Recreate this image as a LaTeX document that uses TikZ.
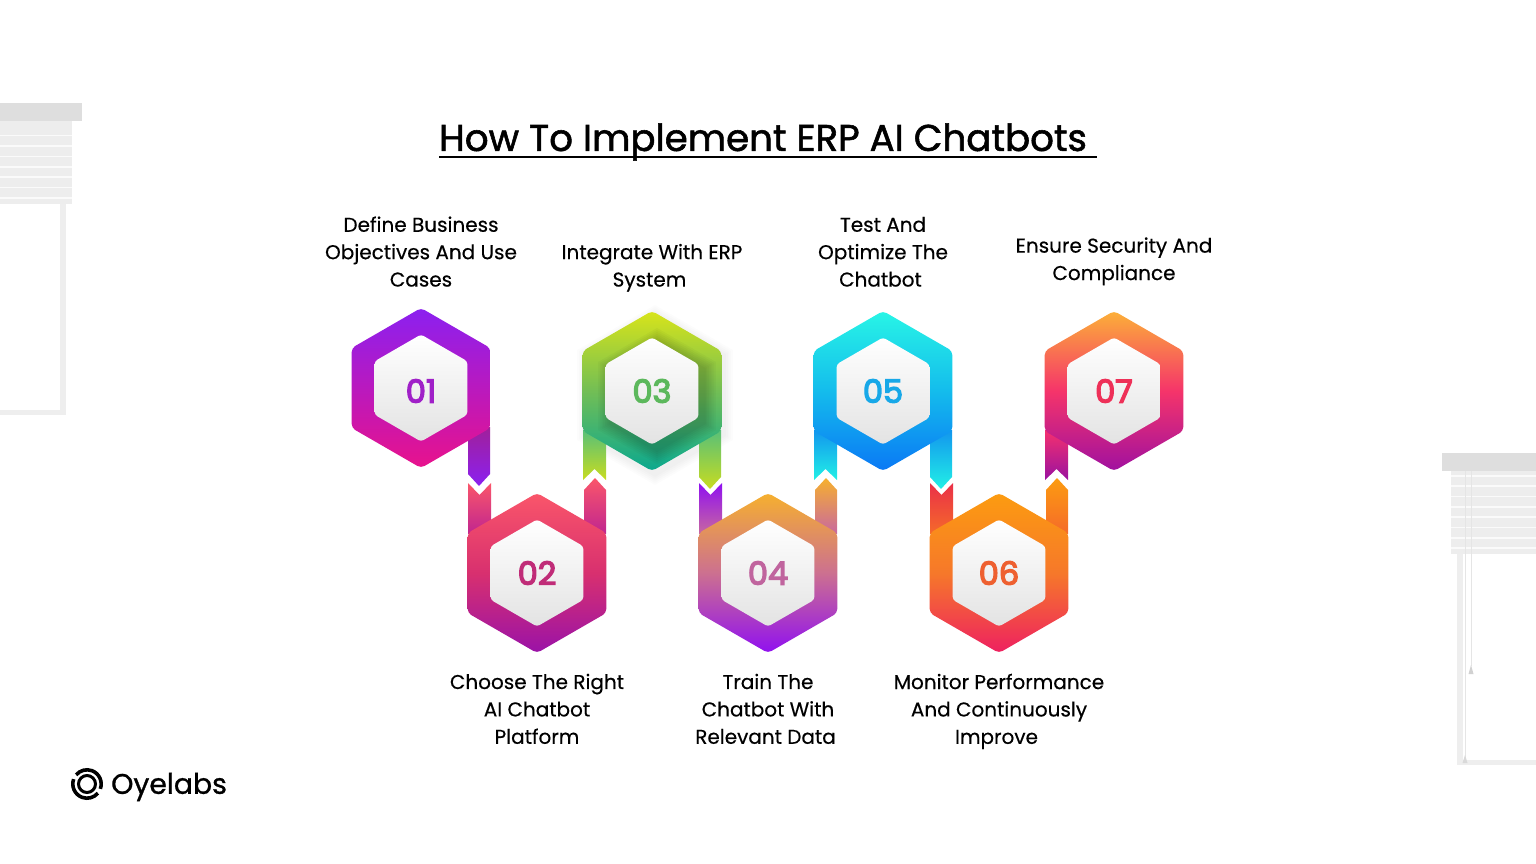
\documentclass[tikz,border=0pt]{standalone}
\usepackage{fontspec}
\setmainfont{Poppins}
\newfontfamily\headfont[FakeBold=1.5]{Poppins}
\newfontfamily\numfont[FakeBold=4]{Poppins}
\newfontfamily\steplabelfont[FakeBold=0.4]{Poppins}
\newfontfamily\brandfont[FakeBold=1]{Poppins}
\usetikzlibrary{positioning,shapes.geometric,calc,backgrounds}

\definecolor{blindbar}{HTML}{DEDEDE}
\definecolor{blindslat}{HTML}{EDEDED}
\definecolor{blindline}{HTML}{FAFAFA}
\definecolor{blindframe}{HTML}{EEEEEE}

\definecolor{HexA1}{HTML}{8B20F0}
\definecolor{HexA2}{HTML}{E8128C}
\definecolor{RibA1}{HTML}{A0209A}
\definecolor{HexB1}{HTML}{FA566A}
\definecolor{HexB2}{HTML}{D8306F}
\definecolor{HexB3}{HTML}{9A12A8}
\definecolor{RibB2}{HTML}{C02590}
\definecolor{HexC1}{HTML}{D8E41A}
\definecolor{HexC2}{HTML}{72BE55}
\definecolor{HexC3}{HTML}{0AA88F}
\definecolor{RibC1}{HTML}{58C078}
\definecolor{RibC2}{HTML}{C8DC20}
\definecolor{HexD1}{HTML}{F6B02E}
\definecolor{HexD2}{HTML}{CC7090}
\definecolor{HexD3}{HTML}{9010F0}
\definecolor{RibD2}{HTML}{C868A0}
\definecolor{HexE1}{HTML}{28F5E6}
\definecolor{HexE2}{HTML}{14BCEC}
\definecolor{HexE3}{HTML}{0A78F5}
\definecolor{RibE1}{HTML}{1296EE}
\definecolor{RibE2}{HTML}{22F0E6}
\definecolor{HexF1}{HTML}{FC9C10}
\definecolor{HexF2}{HTML}{F6782A}
\definecolor{HexF3}{HTML}{EE2060}
\definecolor{RibF1}{HTML}{EA3048}
\definecolor{RibF2}{HTML}{F56A2A}
\definecolor{HexG1}{HTML}{FCB038}
\definecolor{HexG2}{HTML}{F5346A}
\definecolor{HexG3}{HTML}{A010A0}
\definecolor{RibG1}{HTML}{F5306E}
\definecolor{RibG2}{HTML}{9A12A0}
\definecolor{NumA}{HTML}{A020C8}
\definecolor{NumB}{HTML}{C02C78}
\definecolor{NumC}{HTML}{5CB85C}
\definecolor{NumD}{HTML}{C0649E}
\definecolor{NumE}{HTML}{18A8E8}
\definecolor{NumF}{HTML}{EE6030}
\definecolor{NumG}{HTML}{EE3058}

% ribbon pointing down, under the right side of an upper hexagon
\newcommand{\ribdown}[3]{\path[top color=#2, bottom color=#3]
    ($(#1)+(47,39)$) -- ($(#1)+(69,39)$) -- ($(#1)+(69,86)$) -- ($(#1)+(58,98)$)
    -- ($(#1)+(47,86)$) -- cycle;}
% ribbon with a notch, under the left side of an upper hexagon
\newcommand{\ribnotch}[3]{\path[top color=#2, bottom color=#3]
    ($(#1)+(-69,39)$) -- ($(#1)+(-46,39)$) -- ($(#1)+(-46,89)$) -- ($(#1)+(-57.5,78)$)
    -- ($(#1)+(-69,89)$) -- cycle;}
% ribbon with a notch, over the left side of a lower hexagon
\newcommand{\ribtop}[3]{\path[top color=#2, bottom color=#3]
    ($(#1)+(-69,-90)$) -- ($(#1)+(-57.5,-78)$) -- ($(#1)+(-46,-90)$) -- ($(#1)+(-46,-39)$)
    -- ($(#1)+(-69,-39)$) -- cycle;}
% ribbon pointing up, over the right side of a lower hexagon
\newcommand{\ribup}[3]{\path[top color=#2, bottom color=#3]
    ($(#1)+(47,-83)$) -- ($(#1)+(58,-95)$) -- ($(#1)+(69,-83)$) -- ($(#1)+(69,-39)$)
    -- ($(#1)+(47,-39)$) -- cycle;}

\begin{document}
\begin{tikzpicture}[x=1pt, y=-1pt]
    \tikzstyle{hexout}=[regular polygon, regular polygon sides=6, shape border rotate=30,
        minimum size=160pt, inner sep=0pt, rounded corners=4pt]
    \tikzstyle{hexin}=[regular polygon, regular polygon sides=6, shape border rotate=30,
        minimum size=107pt, inner sep=0pt, rounded corners=3pt, top color=white, bottom color=black!11,
        font=\fontsize{32}{32}\numfont]
    \tikzstyle{step label}=[align=center, text=black, font=\fontsize{20}{27.4}\steplabelfont]

    \useasboundingbox (0,0) rectangle (1536,864);

    % window on the left
    \fill[blindslat] (0,121) rectangle (72,204);
    \foreach \y in {135,145.3,155.6,166,176.3,186.6,197}
        \fill[blindline] (0,\y) rectangle (72,\y+1.5);
    \fill[blindbar] (0,103) rectangle (81.5,121);
    \fill[blindframe] (60,204) rectangle (66,415);
    \fill[blindframe] (0,409.5) rectangle (66,415);

    % window on the right
    \fill[blindslat] (1451,471) rectangle (1536,554);
    \foreach \y in {475,485.3,495.6,506,516.3,526.6,537,547}
        \fill[blindline] (1451,\y) rectangle (1536,\y+1.5);
    \fill[blindbar] (1442,453) rectangle (1536,471);
    \fill[blindframe] (1457,554) rectangle (1463,765);
    \fill[blindframe] (1457,759.5) rectangle (1536,765);
    \draw[black!10, line width=1pt] (1465,471) -- (1465,760);
    \fill[black!15] (1462.5,763) -- (1465,755) -- (1467.5,763) -- cycle;
    \draw[black!10, line width=1pt] (1471,471) -- (1471,666);
    \fill[black!18] (1468.5,674) -- (1471,665) -- (1473.5,674) -- cycle;

    % title
    \node[font=\fontsize{37.2}{40}\headfont] (title) at (763,142) {How To Implement ERP AI Chatbots};
    \coordinate (ul1) at (439,157);
    \coordinate (ul2) at (1097,157);
    \draw[line width=1.8pt] (ul1) -- (ul2);

    % hexagons
    \node[hexout, top color=HexA1, bottom color=HexA2] (h1) at (421,388) {};
    \node[hexout, top color=HexB1, bottom color=HexB3, middle color=HexB2] (h2) at (537,573) {};
    \node[hexout, top color=HexC1, bottom color=HexC3, middle color=HexC2] (h3) at (652,391) {};
    \node[hexout, top color=HexD1, bottom color=HexD3, middle color=HexD2] (h4) at (768,573) {};
    \node[hexout, top color=HexE1, bottom color=HexE3, middle color=HexE2] (h5) at (883,391) {};
    \node[hexout, top color=HexF1, bottom color=HexF3, middle color=HexF2] (h6) at (999,573) {};
    \node[hexout, top color=HexG1, bottom color=HexG3, middle color=HexG2] (h7) at (1114,391) {};

    % dark ring inside the green one
    \foreach \s in {112,116,...,136}
        \node[regular polygon, regular polygon sides=6, shape border rotate=30, minimum size=\s pt,
            inner sep=0pt, fill=black, fill opacity=0.028] (ring\s) at ($(h3)+(5,5)$) {};

    \node[hexin] (n1) at (h1) {};
    \node[font=\fontsize{32}{32}\numfont, text=NumA] (t1) at ($(n1)+(0,3)$) {01};
    \node[hexin, text=NumB] (n2) at (h2) {02};
    \node[hexin, text=NumC] (n3) at (h3) {03};
    \node[hexin, text=NumD] (n4) at (h4) {04};
    \node[hexin, text=NumE] (n5) at (h5) {05};
    \node[hexin, text=NumF] (n6) at (h6) {06};
    \node[hexin, text=NumG] (n7) at (h7) {07};

    % ribbons behind the hexagons
    \begin{scope}[on background layer]
        \foreach \s in {164,168,...,180}
            \node[regular polygon, regular polygon sides=6, shape border rotate=30, minimum size=\s pt,
                inner sep=0pt, fill=black, fill opacity=0.01] (halo\s) at ($(h3)+(3,4)$) {};
        \ribdown{h1}{RibA1}{HexA1}
        \ribtop{h2}{HexB1}{RibB2}
        \ribup{h2}{HexB1}{RibB2}
        \ribnotch{h3}{RibC1}{RibC2}
        \ribdown{h3}{RibC1}{RibC2}
        \ribtop{h4}{HexD3}{RibD2}
        \ribup{h4}{HexD1}{RibD2}
        \ribnotch{h5}{RibE1}{RibE2}
        \ribdown{h5}{RibE1}{RibE2}
        \ribtop{h6}{RibF1}{RibF2}
        \ribup{h6}{HexF1}{RibF2}
        \ribnotch{h7}{RibG1}{RibG2}
    \end{scope}

    % labels
    \node[step label, above=17.5pt of h1] (l1) {Define Business\\Objectives And Use\\Cases};
    \node[step label, above=15.5pt of h3] (l3) {Integrate With ERP\\System\hspace*{5pt}};
    \node[step label, above=20.5pt of h5] (l5) {Test And\\Optimize The\\Chatbot\hspace*{5pt}};
    \node[step label, above=22pt of h7] (l7) {Ensure Security And\\Compliance};
    \node[step label, below=17pt of h2] (l2) {Choose The Right\\AI Chatbot\\Platform};
    \node[step label, below=17pt of h4] (l4) {Train The\\Chatbot With\\Relevant Data\hspace*{5pt}};
    \node[step label, below=17pt of h6] (l6) {Monitor Performance\\And Continuously\\Improve\hspace*{5pt}};

    % logo
    \coordinate (logo) at (87,784);
    \draw[line width=3pt] (logo) circle (8.5);
    \draw[line width=3.6pt] ($(logo)+(20:14.2)$) arc[start angle=20, end angle=-140, radius=14.2];
    \draw[line width=3.6pt] ($(logo)+(-160:14.2)$) arc[start angle=-160, end angle=-320, radius=14.2];
    \node[font=\fontsize{28.3}{30}\brandfont, anchor=west, inner sep=0pt] (brand) at (111,787) {Oyelabs};
\end{tikzpicture}
\end{document}
